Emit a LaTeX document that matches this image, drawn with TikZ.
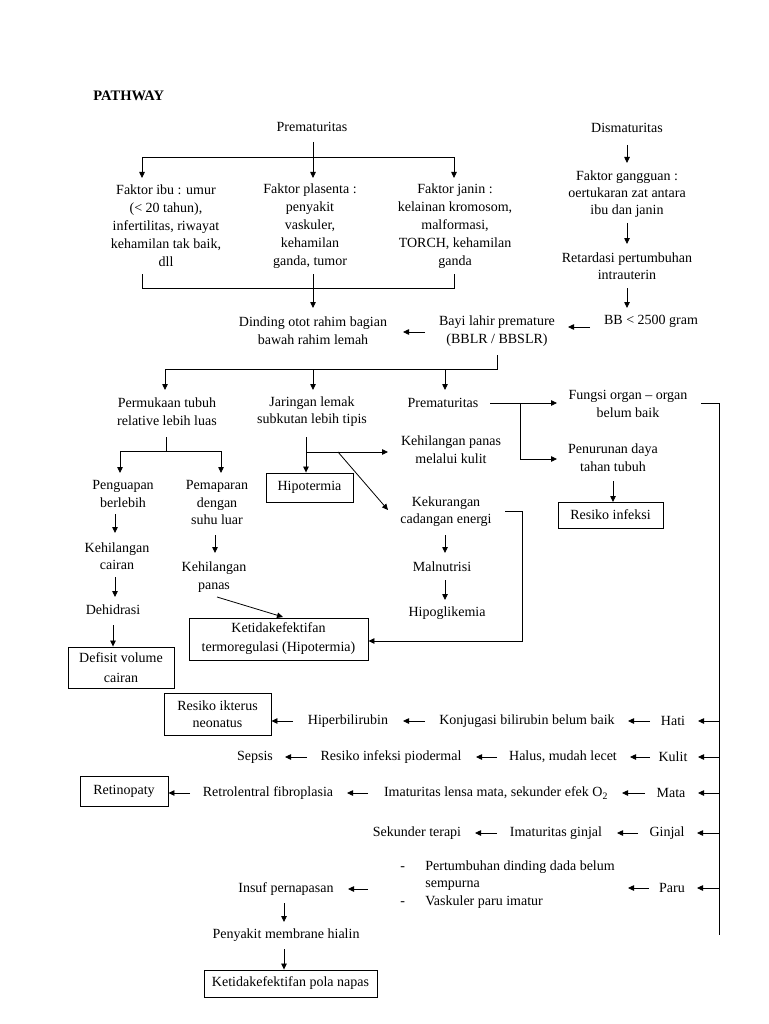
\documentclass[tikz,border=0pt]{standalone}
\usepackage{fontspec}
\setmainfont{Liberation Serif}
\usetikzlibrary{arrows.meta}
\begin{document}
\begin{tikzpicture}[x=1pt,y=-1pt,line width=0.8pt,
  every node/.style={font=\fontsize{14}{18}\selectfont, inner sep=0pt, align=center},
  box/.style={draw, line width=0.9pt},
  arr/.style={-{Triangle[length=6pt,width=5.5pt]}}]
\fill[white] (0,0) rectangle (768,1024);
\useasboundingbox (0,0) rectangle (768,1024);

% ---------- texts ----------
\node[font=\fontsize{14.5}{18}\selectfont\bfseries, anchor=west] (title) at (93,96) {PATHWAY};
\node (prem1) at (312,127) {Prematuritas};
\node (fibu) at (166,226) {Faktor ibu : umur\\(< 20 tahun),\\infertilitas, riwayat\\kehamilan tak baik,\\dll};
\node (fplas) at (310,226) {Faktor plasenta :\\penyakit\\vaskuler,\\kehamilan\\ganda, tumor};
\node (fjan) at (455,226) {Faktor janin :\\kelainan kromosom,\\malformasi,\\TORCH, kehamilan\\ganda};
\node (dism) at (627,128) {Dismaturitas};
\node[font=\fontsize{14}{17}\selectfont] (fgang) at (627,194) {Faktor gangguan :\\oertukaran zat antara\\ibu dan janin};
\node[font=\fontsize{14}{17}\selectfont] (retard) at (627,266) {Retardasi pertumbuhan\\intrauterin};
\node (bb) at (651,321) {BB < 2500 gram};
\node[font=\fontsize{14}{17.5}\selectfont] (bayi) at (497,331) {Bayi lahir premature\\(BBLR / BBSLR)};
\node[font=\fontsize{14}{17.5}\selectfont] (dind) at (313,330.5) {Dinding otot rahim bagian\\bawah rahim lemah};

\node[font=\fontsize{14}{17.5}\selectfont] (perm) at (167,411.5) {Permukaan tubuh\\relative lebih luas};
\node[font=\fontsize{14}{17.5}\selectfont] (jar) at (312,411.5) {Jaringan lemak\\subkutan lebih tipis};
\node (prem2) at (443,403) {Prematuritas};
\node[font=\fontsize{14}{17.5}\selectfont] (fungsi) at (628,404) {Fungsi organ – organ\\belum baik};
\node[font=\fontsize{14}{17.5}\selectfont] (penur) at (613,457.5) {Penurunan daya\\tahan tubuh};
\node[box, minimum width=105pt, minimum height=26pt] (resinf) at (610.5,515) {Resiko infeksi};

\node[font=\fontsize{14}{17.5}\selectfont] (pengu) at (123,494) {Penguapan\\berlebih};
\node[font=\fontsize{14}{17.5}\selectfont] (pemap) at (217,502.5) {Pemaparan\\dengan\\suhu luar};
\node[box, minimum width=87pt, minimum height=29pt] (hipot) at (309.5,487.5) {Hipotermia};
\node[font=\fontsize{14}{17.5}\selectfont] (kehpan1) at (451,449.5) {Kehilangan panas\\melalui kulit};
\node[font=\fontsize{14}{17.5}\selectfont] (kekur) at (446,511.5) {Kekurangan\\cadangan energi};
\node[font=\fontsize{14}{17.5}\selectfont] (kehcair) at (117,556) {Kehilangan\\cairan};
\node (dehid) at (113,610) {Dehidrasi};
\node[box, font=\fontsize{14}{20}\selectfont, minimum width=106pt, minimum height=41pt] (defisit) at (121,667.5) {Defisit volume\\cairan};
\node[font=\fontsize{14}{17.5}\selectfont] (kehpan2) at (214,577) {Kehilangan\\panas};
\node[box, font=\fontsize{14}{19}\selectfont, minimum width=179pt, minimum height=42pt] (ketid) at (278.5,639) {Ketidakefektifan\\termoregulasi (Hipotermia)};
\node (maln) at (442,567) {Malnutrisi};
\node (hipog) at (447,613) {Hipoglikemia};

% organ rows
\node[box, font=\fontsize{14}{17.5}\selectfont, minimum width=107pt, minimum height=42pt] (riket) at (217.5,714) {Resiko ikterus\\neonatus};
\node (hiper) at (348,721) {Hiperbilirubin};
\node (konj) at (527,721) {Konjugasi bilirubin belum baik};
\node (hati) at (673,721) {Hati};

\node (sepsis) at (255,757) {Sepsis};
\node (respio) at (391,757) {Resiko infeksi piodermal};
\node (halus) at (563,757) {Halus, mudah lecet};
\node (kulit) at (673,757) {Kulit};

\node[box, minimum width=88pt, minimum height=30pt] (retino) at (124,791) {Retinopaty};
\node (retro) at (268,793) {Retrolentral fibroplasia};
\node (imat) at (496,793) {Imaturitas lensa mata, sekunder efek O\textsubscript{2}};
\node (mata) at (671,793) {Mata};

\node (sekter) at (417,833) {Sekunder terapi};
\node (imgin) at (556,833) {Imaturitas ginjal};
\node (ginjal) at (667,833) {Ginjal};

\node (paru) at (672,888) {Paru};
\node[align=left, anchor=west, font=\fontsize{14}{17.5}\selectfont] (paruls) at (400,884.5)
  {\makebox[25pt][l]{-}Pertumbuhan dinding dada belum\\\hspace*{25pt}sempurna\\\makebox[25pt][l]{-}Vaskuler paru imatur};
\node (insuf) at (286,889) {Insuf pernapasan};
\node (penyak) at (286,935) {Penyakit membrane hialin};
\node[box, minimum width=173pt, minimum height=27pt] (ketpola) at (290.5,983.5) {Ketidakefektifan pola napas};

% ---------- connectors ----------
% top tree
\coordinate (j1) at (313,157);
\draw[arr] (313,142) -- (313,178);
\draw[arr] (j1) -| (142,178);
\draw[arr] (j1) -| (454,178);
% bottom bracket
\draw (142,274) |- (454,288) -- (454,274);
\draw[arr] (313,274) -- (313,308);
% horizontals into Dinding and Bayi
\draw[arr] (425,332) -- (403,332);
\draw[arr] (590,327) -- (568,327);
% dismaturitas column
\draw[arr] (627,145) -- (627,163);
\draw[arr] (627,223) -- (627,244);
\draw[arr] (627,288) -- (627,308);
% bayi split
\coordinate (j2) at (497,369);
\draw (497,355) -- (j2) -- (165,369);
\draw[arr] (165,369) -- (165,390);
\draw[arr] (313,369) -- (313,390);
\draw[arr] (445,369) -- (445,390);
% prematuritas 2
\coordinate (j3) at (520,403);
\draw[arr] (490,403) -- (557,403);
\draw[arr] (j3) |- (557,459);
\draw[arr] (613,481) -- (613,502);
% right long line
\draw (701,403) -- (719,403) -- (719,935);
% permukaan split
\coordinate (j4) at (166,451);
\draw (166,437) -- (j4);
\draw[arr] (j4) -| (120,473);
\draw[arr] (j4) -| (221,473);
% jaringan
\coordinate (j5) at (306,452);
\draw[arr] (306,437) -- (hipot.north -| 306,0);
\draw[arr] (j5) -- (388,452);
\draw[arr] (338,452) -- (388,510);
% kekurangan to ketid
\draw[arr] (505,511) -- (522,511) -- (522,641) -- (ketid.east |- 0,641);
% left column
\draw[arr] (115,514) -- (115,533);
\draw[arr] (115,577) -- (115,597);
\draw[arr] (113,625) -- (defisit.north -| 113,0);
% pemaparan
\draw[arr] (215,535) -- (215,553);
\draw[arr] (217,597) -- (283,617);
% kekurangan column
\draw[arr] (445,535) -- (445,553);
\draw[arr] (445,580) -- (445,600);
% hati row
\draw[arr] (719,721) -- (698,721);
\draw[arr] (650,721) -- (628,721);
\draw[arr] (425,721) -- (403,721);
\draw[arr] (293,721) -- (riket.east |- 0,721);
% kulit row
\draw[arr] (719,757) -- (698,757);
\draw[arr] (650,757) -- (630,757);
\draw[arr] (497,757) -- (476,757);
\draw[arr] (307,757) -- (285,757);
% mata row
\draw[arr] (719,793) -- (698,793);
\draw[arr] (645,793) -- (622,793);
\draw[arr] (368,793) -- (347,793);
\draw[arr] (190,793) -- (retino.east |- 0,793);
% ginjal row
\draw[arr] (719,833) -- (697,833);
\draw[arr] (638,833) -- (617,833);
\draw[arr] (497,833) -- (475,833);
% paru row
\draw[arr] (719,888) -- (697,888);
\draw[arr] (649,888) -- (628,888);
\draw[arr] (368,889) -- (348,889);
\draw[arr] (284,903) -- (284,922);
\draw[arr] (284,949) -- (ketpola.north -| 284,0);
\end{tikzpicture}
\end{document}
